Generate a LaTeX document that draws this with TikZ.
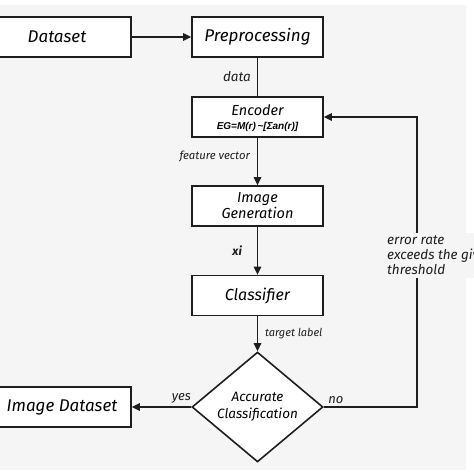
\documentclass[tikz,border=0pt]{standalone}
\usepackage{fontspec}
\setmainfont{Fira Sans}
\newfontfamily\formfont{Liberation Sans}
\usetikzlibrary{shapes.geometric,arrows.meta}
\definecolor{bg}{HTML}{F5F5F5}
\definecolor{ink}{HTML}{1E1E1E}
\tikzset{
  box/.style={draw=ink, line width=1.6pt, fill=white, minimum width=131pt, minimum height=40pt, inner sep=0pt, align=center, font=\fontsize{14.5}{16}\selectfont\itshape},
  bigbox/.style={box, font=\fontsize{17}{19}\selectfont\itshape},
  dec/.style={draw=ink, line width=1.6pt, fill=white, diamond, minimum width=131pt, minimum height=98pt, inner sep=0pt, align=center, font=\fontsize{13.5}{17}\selectfont\itshape},
  conn/.style={draw=ink, line width=1.3pt},
  arr/.style={conn, -{Triangle[length=8pt,width=7.5pt]}},
  lbl/.style={font=\fontsize{11.3}{13}\selectfont\itshape, text=ink, inner sep=0pt}
}
\begin{document}
\begin{tikzpicture}[x=1pt,y=-1pt]
\useasboundingbox (0,0) rectangle (474,474);
\clip (0,0) rectangle (474,474);
\fill[white] (0,0) rectangle (474,474);
\fill[bg] (0,5) rectangle (466,470);
\node[bigbox, minimum width=148pt] (ds) at (57,37) {Dataset};
\node[bigbox] (pre) at (257.5,37) {Preprocessing};
\node[box] (enc) at (257.5,117) {};
\node[font=\fontsize{14.5}{16}\selectfont\itshape, inner sep=0pt, anchor=base] (enct) at (257.5,115) {Encoder};
\node[font=\formfont\fontsize{10}{11}\selectfont\bfseries\itshape, inner sep=0pt] (encf) at (257.5,127) {EG=M(r)\,\textasciitilde[Σan(r)]};
\node[box] (ig) at (257.5,206) {Image\\Generation};
\node[box, font=\fontsize{16}{18}\selectfont\itshape] (cls) at (257.5,295.5) {Classifier};
\node[dec] (acc) at (257.5,407) {Accurate\\Classification};
\node[bigbox, minimum width=138pt] (ids) at (62,407) {Image Dataset};
\coordinate (corner) at (417,407);
\draw[arr] (ds) -- (pre);
\draw[conn] (pre) -- node[lbl, left, xshift=-6pt, pos=0.5, font=\fontsize{13.5}{15}\selectfont\itshape] {data} (enc);
\draw[arr] (enc) -- node[lbl, left, xshift=-7pt, pos=0.4] {feature vector} (ig);
\draw[arr] (ig) -- node[lbl, left, xshift=-15pt, pos=0.5, font=\fontsize{12}{13}\selectfont\bfseries\itshape] {xi} (cls);
\draw[arr] (cls) -- node[lbl, right, xshift=7pt, pos=0.5, font=\fontsize{11}{13}\selectfont\itshape] {target label} (acc);
\draw[arr] (acc) -- node[lbl, above right, xshift=-20pt, yshift=3pt, pos=0, font=\fontsize{13}{14}\selectfont\itshape] {yes} (ids);
\draw[arr] (acc.east) -- node[lbl, above right, xshift=4pt, yshift=3pt, pos=0, font=\fontsize{13}{14}\selectfont\itshape] {no} (corner) |- (enc.east);
\node[lbl, fill=bg, anchor=west, align=left, inner sep=3pt, font=\fontsize{13.5}{15}\selectfont\itshape] (err) at (384,255.5) {error rate\\exceeds the given\\threshold};
\end{tikzpicture}
\end{document}
